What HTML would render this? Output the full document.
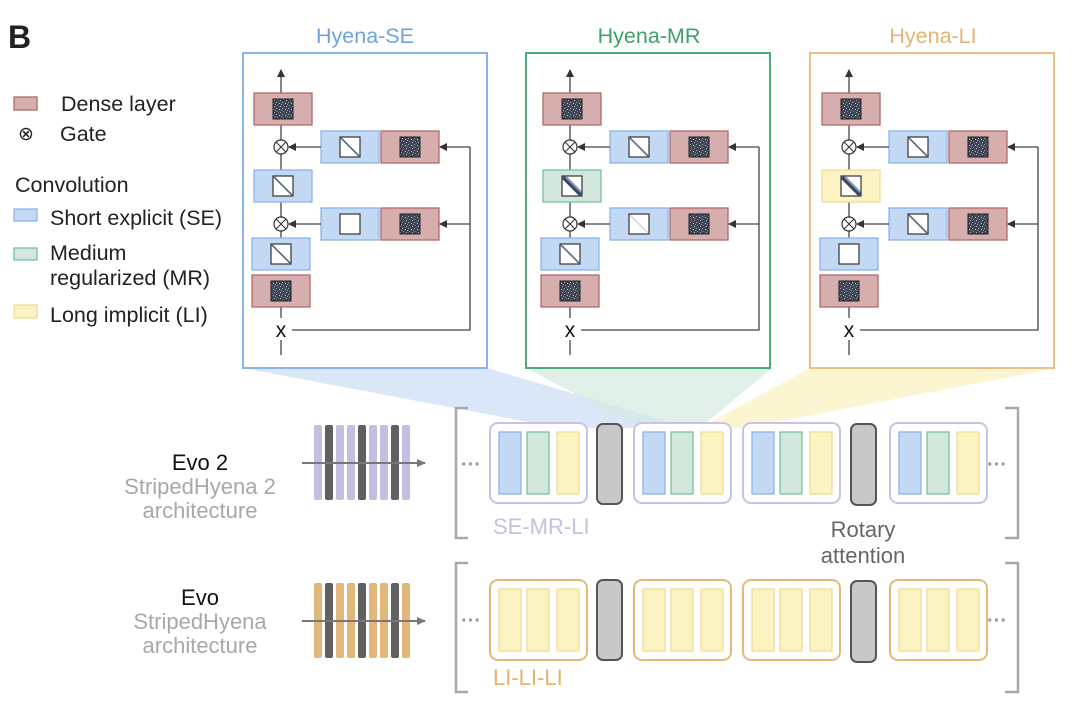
<!DOCTYPE html>
<html><head><meta charset="utf-8">
<style>
html,body{margin:0;padding:0;background:#fff;}
svg{display:block;font-family:"Liberation Sans",sans-serif;}
</style></head>
<body>
<svg id="s" width="1080" height="714" viewBox="0 0 1080 714" xmlns="http://www.w3.org/2000/svg">
<defs>
<pattern id="noise" width="6" height="6" patternUnits="userSpaceOnUse">
<rect width="6" height="6" fill="#3e4452"/>
<rect x="0" y="0" width="1" height="1" fill="#9aa3b5"/><rect x="3" y="1" width="1" height="1" fill="#c0c6d4"/>
<rect x="1" y="3" width="1" height="1" fill="#7c8598"/><rect x="4" y="4" width="1" height="1" fill="#aab2c2"/>
<rect x="2" y="5" width="1" height="1" fill="#5f6878"/><rect x="5" y="2" width="1" height="1" fill="#8a93a6"/>
</pattern>
<marker id="ah" markerWidth="8" markerHeight="8" refX="7" refY="4" orient="auto" markerUnits="userSpaceOnUse"><path d="M0,0 L8,4 L0,8 z" fill="#333"/></marker>
<marker id="ag" markerWidth="9" markerHeight="8" refX="8" refY="4" orient="auto" markerUnits="userSpaceOnUse"><path d="M0,0 L9,4 L0,8 z" fill="#777"/></marker>
</defs>

<!-- funnels -->
<polygon points="243,368 487,368 690,428 560,428" fill="#c9ddf5" opacity="0.7"/>
<polygon points="526,368 772,368 700,428 640,428" fill="#d4e8e0" opacity="0.7"/>
<polygon points="810,368 1056,368 745,428 700,428" fill="#faf3c6" opacity="0.8"/>

<g id="g"></g>

<!-- texts -->
<text x="8" y="48" font-size="32" font-weight="bold" fill="#222">B</text>
<text x="61" y="111" font-size="21.5" fill="#222">Dense layer</text>
<text x="26" y="140" font-size="19" fill="#222" text-anchor="middle">⊗</text>
<text x="60" y="141" font-size="21.5" fill="#222">Gate</text>
<text x="15" y="192" font-size="21.5" fill="#222">Convolution</text>
<text x="50" y="225" font-size="21.5" fill="#222">Short explicit (SE)</text>
<text x="50" y="260" font-size="21.5" fill="#222">Medium</text>
<text x="50" y="285" font-size="21.5" fill="#222">regularized (MR)</text>
<text x="50" y="322" font-size="21.5" fill="#222">Long implicit (LI)</text>

<text x="365" y="43" font-size="21.5" fill="#6fa3e0" text-anchor="middle">Hyena-SE</text>
<text x="649" y="43" font-size="21.5" fill="#3f9e6a" text-anchor="middle">Hyena-MR</text>
<text x="933" y="43" font-size="21.5" fill="#e3b574" text-anchor="middle">Hyena-LI</text>

<text x="200" y="470" font-size="22" fill="#111" text-anchor="middle">Evo 2</text>
<text x="200" y="494" font-size="22" fill="#a8a8a8" text-anchor="middle">StripedHyena 2</text>
<text x="200" y="518" font-size="22" fill="#a8a8a8" text-anchor="middle">architecture</text>
<text x="200" y="605" font-size="22" fill="#111" text-anchor="middle">Evo</text>
<text x="200" y="629" font-size="22" fill="#a8a8a8" text-anchor="middle">StripedHyena</text>
<text x="200" y="653" font-size="22" fill="#a8a8a8" text-anchor="middle">architecture</text>

<text x="493" y="534" font-size="22" fill="#c6c0e2">SE-MR-LI</text>
<text x="863" y="537" font-size="22" fill="#666" text-anchor="middle">Rotary</text>
<text x="863" y="563" font-size="22" fill="#666" text-anchor="middle">attention</text>
<text x="493" y="685" font-size="22" fill="#e2b36e">LI-LI-LI</text>
<text x="471" y="471" font-size="20" font-weight="bold" fill="#999" text-anchor="middle">···</text>
<text x="997" y="471" font-size="20" font-weight="bold" fill="#999" text-anchor="middle">···</text>
<text x="471" y="627" font-size="20" font-weight="bold" fill="#999" text-anchor="middle">···</text>
<text x="997" y="627" font-size="20" font-weight="bold" fill="#999" text-anchor="middle">···</text>
</svg>
<script>
const g=document.getElementById('g');const NS='http://www.w3.org/2000/svg';
function el(t,a){const e=document.createElementNS(NS,t);for(const k in a)e.setAttribute(k,a[k]);g.appendChild(e);return e;}
const RED=['#d7aeae','#b06a6a'],BLUE=['#c3d9f3','#8ab4ea'],GREEN=['#d3e7df','#78c29d'],YEL=['#fbf4c2','#f1dc98'];
function rect(x,y,w,h,c,sw){el('rect',{x,y,width:w,height:h,fill:c[0],stroke:c[1],'stroke-width':sw||1.3});}
function dense(x,y){rect(x,y,58,32,RED);el('rect',{x:x+19,y:y+6,width:20,height:20,fill:'url(#noise)',stroke:'#222','stroke-width':1});}
function conv(x,y,c,kind){rect(x,y,58,32,c);const sx=x+19,sy=y+6;el('rect',{x:sx,y:sy,width:20,height:20,fill:'#fff',stroke:'#333','stroke-width':1.2});
 if(kind==1)el('line',{x1:sx+1,y1:sy+1,x2:sx+19,y2:sy+19,stroke:'#5a6a80','stroke-width':1.6});
 if(kind==2){el('line',{x1:sx+1,y1:sy+1,x2:sx+19,y2:sy+19,stroke:'#3a4a66','stroke-width':4});el('line',{x1:sx+4,y1:sy+1,x2:sx+19,y2:sy+16,stroke:'#8a98b0','stroke-width':2});}
 if(kind==3)el('line',{x1:sx+1,y1:sy+1,x2:sx+19,y2:sy+19,stroke:'#b9d6d0','stroke-width':1.2});}
function gate(cx,cy){el('circle',{cx,cy,r:7,fill:'#fff',stroke:'#333','stroke-width':1.2});
 el('line',{x1:cx-5,y1:cy-5,x2:cx+5,y2:cy+5,stroke:'#333','stroke-width':1.1});el('line',{x1:cx-5,y1:cy+5,x2:cx+5,y2:cy-5,stroke:'#333','stroke-width':1.1});}
function line(x1,y1,x2,y2,m){const a={x1,y1,x2,y2,stroke:'#444','stroke-width':1.3};if(m)a['marker-end']='url(#ah)';el('line',a);}
function panel(bx,ox,col,mid,rb1,lb){
 el('rect',{x:bx,y:53,width:244,height:315,fill:'#fff',stroke:col,'stroke-width':2});
 const cx=281+ox;
 line(cx,93,cx,70,true);
 line(cx,124,cx,170);line(cx,202,cx,238);line(cx,307,cx,318);line(cx,340,cx,355);
 dense(254+ox,93);
 gate(cx,147);
 conv(321+ox,131,BLUE,1);dense(381+ox,131);
 conv(254+ox,170,mid[0],mid[1]);
 gate(cx,224);
 conv(321+ox,208,BLUE,rb1);dense(381+ox,208);
 conv(252+ox,238,BLUE,lb);dense(252+ox,275);
 line(321+ox,147,cx+8,147,true);line(321+ox,224,cx+8,224,true);
 el('path',{d:`M${292+ox},330 H${470+ox} V147`,fill:'none',stroke:'#444','stroke-width':1.3});
 line(470+ox,147,440+ox,147,true);line(470+ox,224,440+ox,224,true);
 const t=el('text',{x:cx,y:337,'font-size':21,fill:'#111','text-anchor':'middle'});t.textContent='x';
}
panel(243,0,'#8ab4ea',[BLUE,1],0,1);
panel(526,289,'#4fa87a',[GREEN,2],3,1);
panel(810,568,'#e8c189',[YEL,2],1,0);

rect(14,97,23,13,RED);rect(14,209,23,12,BLUE);rect(14,248,23,12,GREEN);rect(14,305,23,13,YEL);

function stripes(y1,y2,c,ay){const xs=[314,325,336,347,358,369,380,391,402];
 xs.forEach((x,i)=>el('rect',{x,y:y1,width:8,height:y2-y1,rx:2,fill:(i%3==1)?'#606060':c}));
 el('line',{x1:302,y1:ay,x2:425,y2:ay,stroke:'#777','stroke-width':2,'marker-end':'url(#ag)'});}
stripes(425,500,'#c4bfe0',463);stripes(583,658,'#e2b87a',621);

function brackets(y1,y2){el('path',{d:`M468,${y1} H456 V${y2} H468`,fill:'none',stroke:'#a8a8a8','stroke-width':2.5});
 el('path',{d:`M1005,${y1} H1018 V${y2} H1005`,fill:'none',stroke:'#a8a8a8','stroke-width':2.5});}
brackets(408,538);brackets(563,692);

function block(x,y,h,outline,cols){el('rect',{x,y,width:97,height:h,rx:8,fill:'#fff',stroke:outline,'stroke-width':2});
 [9,37,67].forEach((d,i)=>el('rect',{x:x+d,y:y+9,width:22,height:h-18,fill:cols[i][0],stroke:cols[i][1],'stroke-width':1.3}));}
function attn(x,y,h){el('rect',{x,y,width:25,height:h,rx:6,fill:'#c8c8c8',stroke:'#555','stroke-width':2});}
const E2=[BLUE,GREEN,YEL],E1=[YEL,YEL,YEL];
[490,634,743,890].forEach(x=>block(x,423,80,'#c9c2e4',E2));attn(597,424,80);attn(851,424,81);
[490,634,743,890].forEach(x=>block(x,580,80,'#e6b878',E1));attn(597,580,80);attn(851,581,81);
</script>
</body></html>
